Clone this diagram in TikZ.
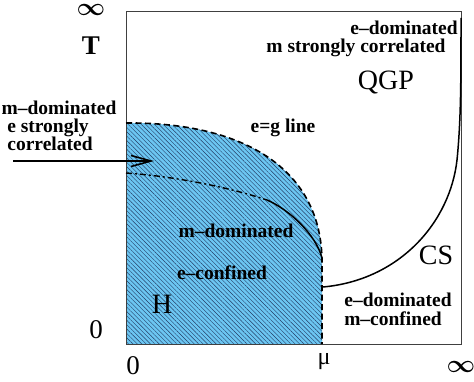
\documentclass[tikz,border=0pt]{standalone}
\usepackage{fontspec}
\setmainfont{Liberation Serif}
\usetikzlibrary{arrows.meta,patterns.meta}
\definecolor{hblue}{RGB}{108,198,242}
\definecolor{hatchc}{RGB}{35,60,100}
\begin{document}
\begin{tikzpicture}[x=1pt,y=-1pt,
  lbl/.style={font=\bfseries\fontsize{19.5}{20}\selectfont, inner sep=0pt, anchor=mid, text height=11pt, text depth=3pt},
  big/.style={font=\fontsize{28}{30}\selectfont, inner sep=0pt, anchor=mid},
  axis/.style={font=\fontsize{27}{30}\selectfont, inner sep=0pt, anchor=mid},
  infsym/.style={font=\boldmath\fontsize{24}{30}\selectfont, inner sep=0pt},
  frame/.style={line width=0.9pt, black!75},
  bound/.style={line width=1.6pt, dash pattern=on 6pt off 3.5pt},
  dashdot/.style={line width=1.4pt, dash pattern=on 6pt off 3pt on 2pt off 3pt},
  curve/.style={line width=1.5pt},
  arr/.style={line width=1.6pt, -{Straight Barb[length=20pt,width=11pt,line width=1.6pt]}}]
\useasboundingbox (0,0) rectangle (474,382);
% hadron region
\coordinate (bl) at (126,344);
\coordinate (tl) at (126,123);
\coordinate (mu1) at (322,262);
\coordinate (mu0) at (322,344);
\fill[hblue] (bl) -- (tl) .. controls (245,122) and (322,170) .. (mu1) -- (mu0) -- cycle;
\fill[pattern={Lines[angle=-45,distance=3.1pt,line width=0.42pt]}, pattern color=hatchc]
  (bl) -- (tl) .. controls (245,122) and (322,170) .. (mu1) -- (mu0) -- cycle;
% frame
\draw[frame] (126,11) rectangle (461,344);
% boundary e=g line
\draw[bound] (tl) .. controls (245,122) and (322,170) .. (mu1) -- (mu0);
% dash-dot line and solid piece
\coordinate (dd0) at (126,173);
\coordinate (dd1) at (267,200);
\coordinate (dd2) at (322,258);
\draw[dashdot] (dd0) .. controls (170,176) and (225,186) .. (dd1);
\draw[curve] (dd1) .. controls (290,210) and (316,235) .. (dd2);
% CS boundary
\coordinate (cs0) at (323,287);
\coordinate (cs1) at (457,160);
\coordinate (cs2) at (461,18);
\draw[curve] (cs0) .. controls (400,280) and (450,222) .. (cs1) .. controls (461,120) and (461,80) .. (cs2);
% arrow
\coordinate (a0) at (13,161);
\coordinate (a1) at (154,161);
\draw[arr] (a0) -- (a1);
% labels
\node[lbl] (l1) at (59,112) {m–dominated};
\node[lbl] (l2) at (48,130) {e strongly};
\node[lbl] (l3) at (50,148) {correlated};
\node[lbl] (eg) at (283,130) {e=g line};
\node[lbl] (t1) at (404,32) {e–dominated};
\node[lbl] (t2) at (356,50) {m strongly correlated};
\node[big] (qgp) at (386,87) {QGP};
\node[lbl] (m1) at (236,235) {m–dominated};
\node[lbl] (m2) at (222,277) {e–confined};
\node[big] (h) at (162,311) {H};
\node[big] (cs) at (436,262) {CS};
\node[lbl] (b1) at (398,304) {e–dominated};
\node[lbl] (b2) at (393,323) {m–confined};
\node[axis, font=\bfseries\fontsize{27}{30}\selectfont] (T) at (91,52) {T};
\node[axis] (z1) at (96,336) {0};
\node[axis] (z2) at (133,372) {0};
\node[font=\fontsize{24}{26}\selectfont, inner sep=0pt, anchor=mid] (mu) at (324,362) {μ};
\node[infsym] (i1) at (91,10) {$\infty$};
\node[infsym] (i2) at (461,367) {$\infty$};
\end{tikzpicture}
\end{document}
